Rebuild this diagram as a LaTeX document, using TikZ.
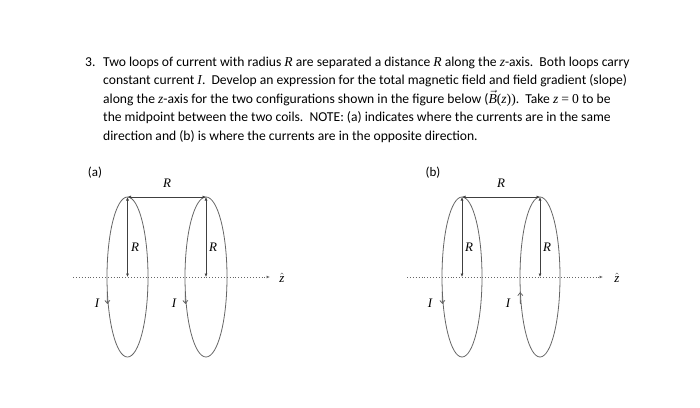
\documentclass[tikz,border=0pt]{standalone}
\usepackage{fontspec}
\setmainfont{Carlito}
\newfontfamily\mf{Liberation Serif}
\newcommand{\mv}[1]{{\mf\itshape #1}}
\usetikzlibrary{arrows.meta}
\begin{document}
\begin{tikzpicture}[x=1pt,y=-1pt,
  txt/.style={anchor=base west,inner sep=0pt,font=\fontsize{13.6}{15}\selectfont},
  loop/.style={draw=black!60,line width=0.8pt},
  dim/.style={draw=black!75,line width=0.6pt,{Latex[length=3.5pt,width=3pt]}-{Latex[length=3.5pt,width=3pt]}},
  axis/.style={draw=black!60,line width=0.9pt,dotted,-{Latex[length=3.5pt,width=3pt]}},
  lbl/.style={inner sep=0pt,font=\fontsize{13}{14}\selectfont},
  down/.style={draw=black!60,line width=0.8pt,-{Straight Barb[length=3pt,width=5pt]}}]
\useasboundingbox (0,0) rectangle (700,407);
\node[txt] (n) at (85,66) {3.};
\node[txt] (l1) at (103,66) {Two loops of current with radius \mv{R} are separated a distance \mv{R} along the \mv{z}-axis.\ \ Both loops carry};
\node[txt] (l2) at (103,84) {constant current \mv{I}.\ \ Develop an expression for the total magnetic field and field gradient (slope)};
\node[txt] (l3) at (103,103) {along the \mv{z}-axis for the two configurations shown in the figure below ($\vec{\hbox{\mv{B}}}${\mf(\itshape z\upshape))}.\ \ Take \mv{z} {\mf=} {\mf 0} to be};
\node[txt] (l4) at (103,121) {the midpoint between the two coils.\ \ NOTE: (a) indicates where the currents are in the same};
\node[txt] (l5) at (103,140) {direction and (b) is where the currents are in the opposite direction.};
% (a)
\node[lbl] (la) at (95,173) {(a)};
\coordinate (a0) at (73,277); \coordinate (a1) at (270,277);
\draw[axis] (a0) -- (a1);
\node[lbl] (za) at (282,278) {$\hat{\hbox{\mv{z}}}$};
\draw[loop] (127.5,277) ellipse (20.5 and 80);
\draw[loop] (206,277) ellipse (21 and 80);
\coordinate (at1) at (127.5,197); \coordinate (ac1) at (127.5,277);
\coordinate (at2) at (206,197); \coordinate (ac2) at (206,277);
\draw[dim] (at1) -- (at2);
\draw[dim] (at1) -- (ac1);
\draw[dim] (at2) -- (ac2);
\node[lbl] (ra) at (167,183) {\mv{R}};
\node[lbl] (ra1) at (135,247) {\mv{R}};
\node[lbl] (ra2) at (213,247) {\mv{R}};
\node[lbl] (ia1) at (97,303) {\mv{I}};
\node[lbl] (ia2) at (174,303) {\mv{I}};
\draw[down] (107.2,292) -- (107.4,304);
\draw[down] (185.2,292) -- (185.4,304);
% (b)
\node[lbl] (lb) at (433,173) {(b)};
\coordinate (b0) at (407,277); \coordinate (b1) at (603,277);
\draw[axis] (b0) -- (b1);
\node[lbl] (zb) at (617,278) {$\hat{\hbox{\mv{z}}}$};
\draw[loop] (462,277) ellipse (20 and 80);
\draw[loop] (540,277) ellipse (20 and 80);
\coordinate (bt1) at (462,197); \coordinate (bc1) at (462,277);
\coordinate (bt2) at (540,197); \coordinate (bc2) at (540,277);
\draw[dim] (bt1) -- (bt2);
\draw[dim] (bt1) -- (bc1);
\draw[dim] (bt2) -- (bc2);
\node[lbl] (rb) at (501,183) {\mv{R}};
\node[lbl] (rb1) at (469,247) {\mv{R}};
\node[lbl] (rb2) at (547,247) {\mv{R}};
\node[lbl] (ib1) at (430,303) {\mv{I}};
\node[lbl] (ib2) at (508,303) {\mv{I}};
\draw[down] (442.2,292) -- (442.4,304);
\draw[down] (520.4,304) -- (520.2,292);
\end{tikzpicture}
\end{document}
